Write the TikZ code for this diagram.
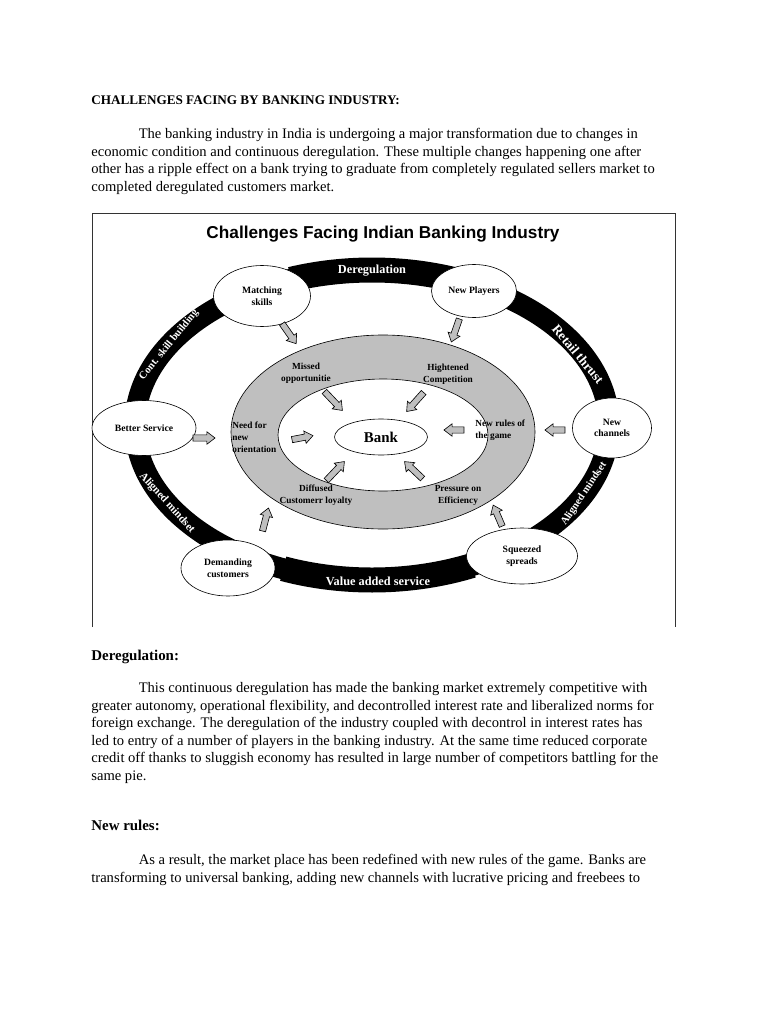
\documentclass[tikz,border=0pt]{standalone}
\usepackage{fontspec}
\setmainfont{Liberation Serif}
\newfontfamily\ttlfont{Liberation Sans}
\usetikzlibrary{calc,shapes.geometric,shapes.arrows}
\tikzset{head/.style={anchor=base west, font=\bfseries\fontsize{8.5}{10}\selectfont}}
\tikzset{para/.style={anchor=north west, align=left, font=\fontsize{8.3}{10}\selectfont}}
\tikzset{bubble/.style={draw, ellipse, fill=white, align=center, line width=0.35pt, font=\bfseries\fontsize{5.5}{6.6}\selectfont}}
\tikzset{glabel/.style={align=center, font=\bfseries\fontsize{5.3}{6.8}\selectfont}}
\tikzset{ringtxt/.style={text=white, font=\bfseries\fontsize{7}{8}\selectfont}}
\tikzset{
  ring/.style={black, line width=0.42cm},
  grayring/.style={draw, fill=black!25, line width=0.35pt},
  frame/.style={black!80, line width=0.5pt},
  fatarrow/.style={draw, fill=black!25, single arrow, single arrow head extend=1.8pt,
    single arrow tip angle=75, inner xsep=0pt, inner ysep=1.6pt, line width=0.35pt}
}
\newcommand\fatarr[2]{\path let \p1=(#1), \p2=(#2), \n1={atan2(\y2-\y1,\x2-\x1)},
  \n2={veclen(\x2-\x1,\y2-\y1)} in node[fatarrow, rotate=\n1, minimum height=\n2] at ($(#1)!0.5!(#2)$) {};}

\begin{document}
\begin{tikzpicture}[x=0.02cm, y=-0.02cm, inner sep=0pt]
\useasboundingbox (0,0) rectangle (768,1024);

% page text
\node[head, font=\bfseries\fontsize{7.5}{10}\selectfont] (h1) at (91,105) {CHALLENGES FACING BY BANKING INDUSTRY:};
\node[para] (p1) at (91,128) {\hspace*{27pt}The banking industry in India is undergoing a major transformation due to changes in\\
economic condition and continuous deregulation. These multiple changes happening one after\\
other has a ripple effect on a bank trying to graduate from completely regulated sellers market to\\
completed deregulated customers market.};
\node[head] (h2) at (91,660) {Deregulation:};
\node[para] (p2) at (91,682) {\hspace*{27pt}This continuous deregulation has made the banking market extremely competitive with\\
greater autonomy, operational flexibility, and decontrolled interest rate and liberalized norms for\\
foreign exchange. The deregulation of the industry coupled with decontrol in interest rates has\\
led to entry of a number of players in the banking industry. At the same time reduced corporate\\
credit off thanks to sluggish economy has resulted in large number of competitors battling for the\\
same pie.};
\node[head] (h3) at (91,830) {New rules:};
\node[para] (p3) at (91,854) {\hspace*{27pt}As a result, the market place has been redefined with new rules of the game. Banks are\\
transforming to universal banking, adding new channels with lucrative pricing and freebees to};

% diagram frame and title
\draw[frame] (92,627) -- (92,213) -- (675,213) -- (675,627);
\node[font=\ttlfont\bfseries\fontsize{9.8}{12}\selectfont] (ttl) at (383,234) {Challenges Facing Indian Banking Industry};

% outer ring, thicker where the top and bottom labels sit
\draw[ring] (372,425) ellipse [x radius=237, y radius=155];
\draw[ring, line width=0.5cm] ($(372,425)+(250:237 and 155)$) arc [start angle=250, end angle=292, x radius=237, y radius=155];
\draw[ring, line width=0.5cm] ($(372,425)+(65:237 and 155)$) arc [start angle=65, end angle=112, x radius=237, y radius=155];
\node[ringtxt] (dereg) at (372,271) {Deregulation};
\node[ringtxt] (vas) at (378,581) {Value added service};
\node[ringtxt, rotate=51, font=\bfseries\fontsize{6}{7}\selectfont] (csb) at (169,345) {Cont. skill building};
\node[ringtxt, rotate=-50, font=\bfseries\fontsize{7.6}{9}\selectfont] (rt) at (578,354) {Retail thrust};
\node[ringtxt, rotate=-48, font=\bfseries\fontsize{6.3}{7}\selectfont] (am1) at (167,503) {Aligned mindset};
\node[ringtxt, rotate=56, font=\bfseries\fontsize{6}{7}\selectfont] (am2) at (584,494) {Aligned mindset};

% gray ring and bank
\draw[grayring] (383,432) ellipse [x radius=152, y radius=97];
\draw[fill=white, line width=0.35pt] (383,435) ellipse [x radius=105, y radius=56];
\node[bubble, minimum width=1.86cm, minimum height=0.72cm, font=\bfseries\fontsize{8.5}{10}\selectfont] (bank) at (381,437) {Bank};

\node[glabel] (mo) at (306,373) {Missed\\opportunitie};
\node[glabel] (hc) at (448,374) {Hightened\\Competition};
\node[glabel, align=left, anchor=west] (no) at (232,437) {Need for\\new\\orientation};
\node[glabel, align=left, anchor=west] (nr) at (475,430) {New rules of\\the game};
\node[glabel] (dl) at (316,495) {Diffused\\Customerr loyalty};
\node[glabel] (pe) at (458,495) {Pressure on\\Efficiency};

% outer bubbles
\node[bubble, minimum width=1.94cm, minimum height=1.22cm] (ms) at (262,296) {Matching\\skills};
\node[bubble, minimum width=1.70cm, minimum height=1.06cm] (np) at (474,291) {New Players};
\node[bubble, minimum width=2.08cm, minimum height=1.10cm] (bs) at (144,428) {Better Service};
\node[bubble, minimum width=1.58cm, minimum height=1.20cm] (nc) at (612,428) {New\\channels};
\node[bubble, minimum width=1.88cm, minimum height=1.12cm] (dc) at (228,568) {Demanding\\customers};
\node[bubble, minimum width=2.22cm, minimum height=1.12cm] (ss) at (522,556) {Squeezed\\spreads};

% fat arrows
\coordinate (ms-t) at (281,322); \coordinate (ms-h) at (295,342);
\coordinate (np-t) at (460,317); \coordinate (np-h) at (452,340);
\coordinate (mo-t) at (323,390); \coordinate (mo-h) at (341,409);
\coordinate (hc-t) at (425,391); \coordinate (hc-h) at (408,410);
\coordinate (bs-t) at (191,438); \coordinate (bs-h) at (213,438);
\coordinate (no-t) at (290,440); \coordinate (no-h) at (311,436);
\coordinate (nr-t) at (466,430); \coordinate (nr-h) at (446,430);
\coordinate (nc-t) at (567,430); \coordinate (nc-h) at (547,430);
\coordinate (dl-t) at (325,482); \coordinate (dl-h) at (343,463);
\coordinate (pe-t) at (424,480); \coordinate (pe-h) at (406,463);
\coordinate (dc-t) at (262,533); \coordinate (dc-h) at (268,510);
\coordinate (ss-t) at (503,528); \coordinate (ss-h) at (494,507);
\fatarr{ms-t}{ms-h} \fatarr{np-t}{np-h}
\fatarr{mo-t}{mo-h} \fatarr{hc-t}{hc-h}
\fatarr{bs-t}{bs-h} \fatarr{no-t}{no-h}
\fatarr{nr-t}{nr-h} \fatarr{nc-t}{nc-h}
\fatarr{dl-t}{dl-h} \fatarr{pe-t}{pe-h}
\fatarr{dc-t}{dc-h} \fatarr{ss-t}{ss-h}
\end{tikzpicture}
\end{document}
